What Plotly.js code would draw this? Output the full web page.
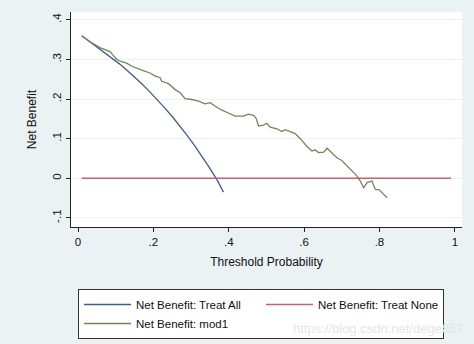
<!DOCTYPE html>
<html>
<head>
<meta charset="utf-8">
<script src="https://cdn.plot.ly/plotly-3.0.1.min.js"></script>
<style>html,body{margin:0;padding:0;background:#eaf2f3;}#chart{width:474px;height:344px;}</style>
</head>
<body>
<div id="chart"></div>
<script>
// Threshold probabilities and net benefit values
const treatAllX = [0.01,0.03,0.05,0.07,0.09,0.11,0.13,0.15,0.17,0.19,0.21,0.23,0.25,0.27,0.29,0.31,0.33,0.35,0.37,0.386];
const treatAllY = [0.360,0.346,0.333,0.318,0.304,0.289,0.273,0.256,0.238,0.219,0.199,0.178,0.156,0.133,0.108,0.082,0.054,0.025,-0.006,-0.035];

const treatNoneX = [0.01,0.99];
const treatNoneY = [0,0];

const mod1X = [0.01,0.032,0.058,0.074,0.085,0.094,0.103,0.114,0.129,0.143,0.156,0.173,0.191,0.205,0.218,0.222,0.240,0.253,0.258,0.271,0.284,0.302,0.320,0.337,0.351,0.364,0.382,0.399,0.417,0.439,0.452,0.466,0.473,0.479,0.492,0.501,0.510,0.528,0.541,0.550,0.563,0.576,0.590,0.607,0.621,0.629,0.638,0.652,0.661,0.674,0.687,0.700,0.714,0.727,0.740,0.749,0.758,0.767,0.780,0.789,0.799,0.811,0.820];
const mod1Y = [0.360,0.345,0.330,0.324,0.320,0.310,0.300,0.295,0.291,0.283,0.279,0.272,0.266,0.258,0.254,0.245,0.239,0.228,0.224,0.216,0.201,0.199,0.195,0.188,0.191,0.182,0.172,0.165,0.157,0.157,0.162,0.159,0.151,0.132,0.134,0.139,0.129,0.125,0.118,0.123,0.117,0.113,0.100,0.081,0.069,0.072,0.065,0.066,0.076,0.065,0.052,0.045,0.031,0.018,0.006,-0.007,-0.024,-0.011,-0.007,-0.028,-0.029,-0.040,-0.049];

const xTickVals = [0,0.2,0.4,0.6,0.8,1];
const xTickText = ['0','.2','.4','.6','.8','1'];
const yTickVals = [-0.1,0,0.1,0.2,0.3,0.4];
const yTickText = ['-.1','0','.1','.2','.3','.4'];

const seriesNames = ['Net Benefit: Treat All','Net Benefit: Treat None','Net Benefit: mod1'];

const font = 'Liberation Sans, Arial, sans-serif';

const traces = [
  {x: treatAllX, y: treatAllY, name: seriesNames[0], mode: 'lines', line: {color: '#3f5d88', width: 1.3}},
  {x: treatNoneX, y: treatNoneY, name: seriesNames[1], mode: 'lines', line: {color: '#c2636d', width: 1.5}},
  {x: mod1X, y: mod1Y, name: seriesNames[2], mode: 'lines', line: {color: '#74845a', width: 1.3}}
];

const layout = {
  width: 474, height: 344,
  margin: {l: 71, r: 12, t: 12, b: 117},
  paper_bgcolor: '#eaf2f3',
  plot_bgcolor: '#ffffff',
  font: {family: font, size: 11.5, color: '#111'},
  showlegend: true,
  xaxis: {
    range: [-0.0186, 1.019],
    tickvals: xTickVals, ticktext: xTickText,
    ticks: 'outside', ticklen: 4, tickcolor: '#222', tickwidth: 1,
    showline: true, linecolor: '#222', linewidth: 1,
    showgrid: false, zeroline: false,
    tickfont: {size: 11.5},
    title: {text: 'Threshold Probability', font: {size: 12}, standoff: 10}
  },
  yaxis: {
    range: [-0.123, 0.42],
    tickvals: yTickVals, ticktext: yTickText, tickangle: -90,
    ticks: 'outside', ticklen: 4, tickcolor: '#222', tickwidth: 1,
    showline: true, linecolor: '#222', linewidth: 1,
    showgrid: true, gridcolor: '#eaf2f3', gridwidth: 1, zeroline: false,
    tickfont: {size: 11.5},
    title: {text: 'Net Benefit', font: {size: 12}, standoff: 12}
  },
  legend: {
    orientation: 'h',
    xref: 'container', yref: 'container',
    x: 0.1646, xanchor: 'left',
    y: 0.1599, yanchor: 'top',
    bgcolor: '#ffffff', bordercolor: '#333', borderwidth: 1,
    font: {size: 11.5},
    itemwidth: 47,
    entrywidth: 120, entrywidthmode: 'pixels',
    traceorder: 'normal'
  },
  annotations: [{
    xref: 'paper', yref: 'paper', x: 1.01, y: -0.47, xanchor: 'right', yanchor: 'middle',
    text: 'https://blog.csdn.net/dege857', showarrow: false,
    font: {size: 13, color: '#e0e7e9'}
  }]
};

Plotly.newPlot('chart', traces, layout, {displayModeBar: false, staticPlot: true});
</script>
</body>
</html>
